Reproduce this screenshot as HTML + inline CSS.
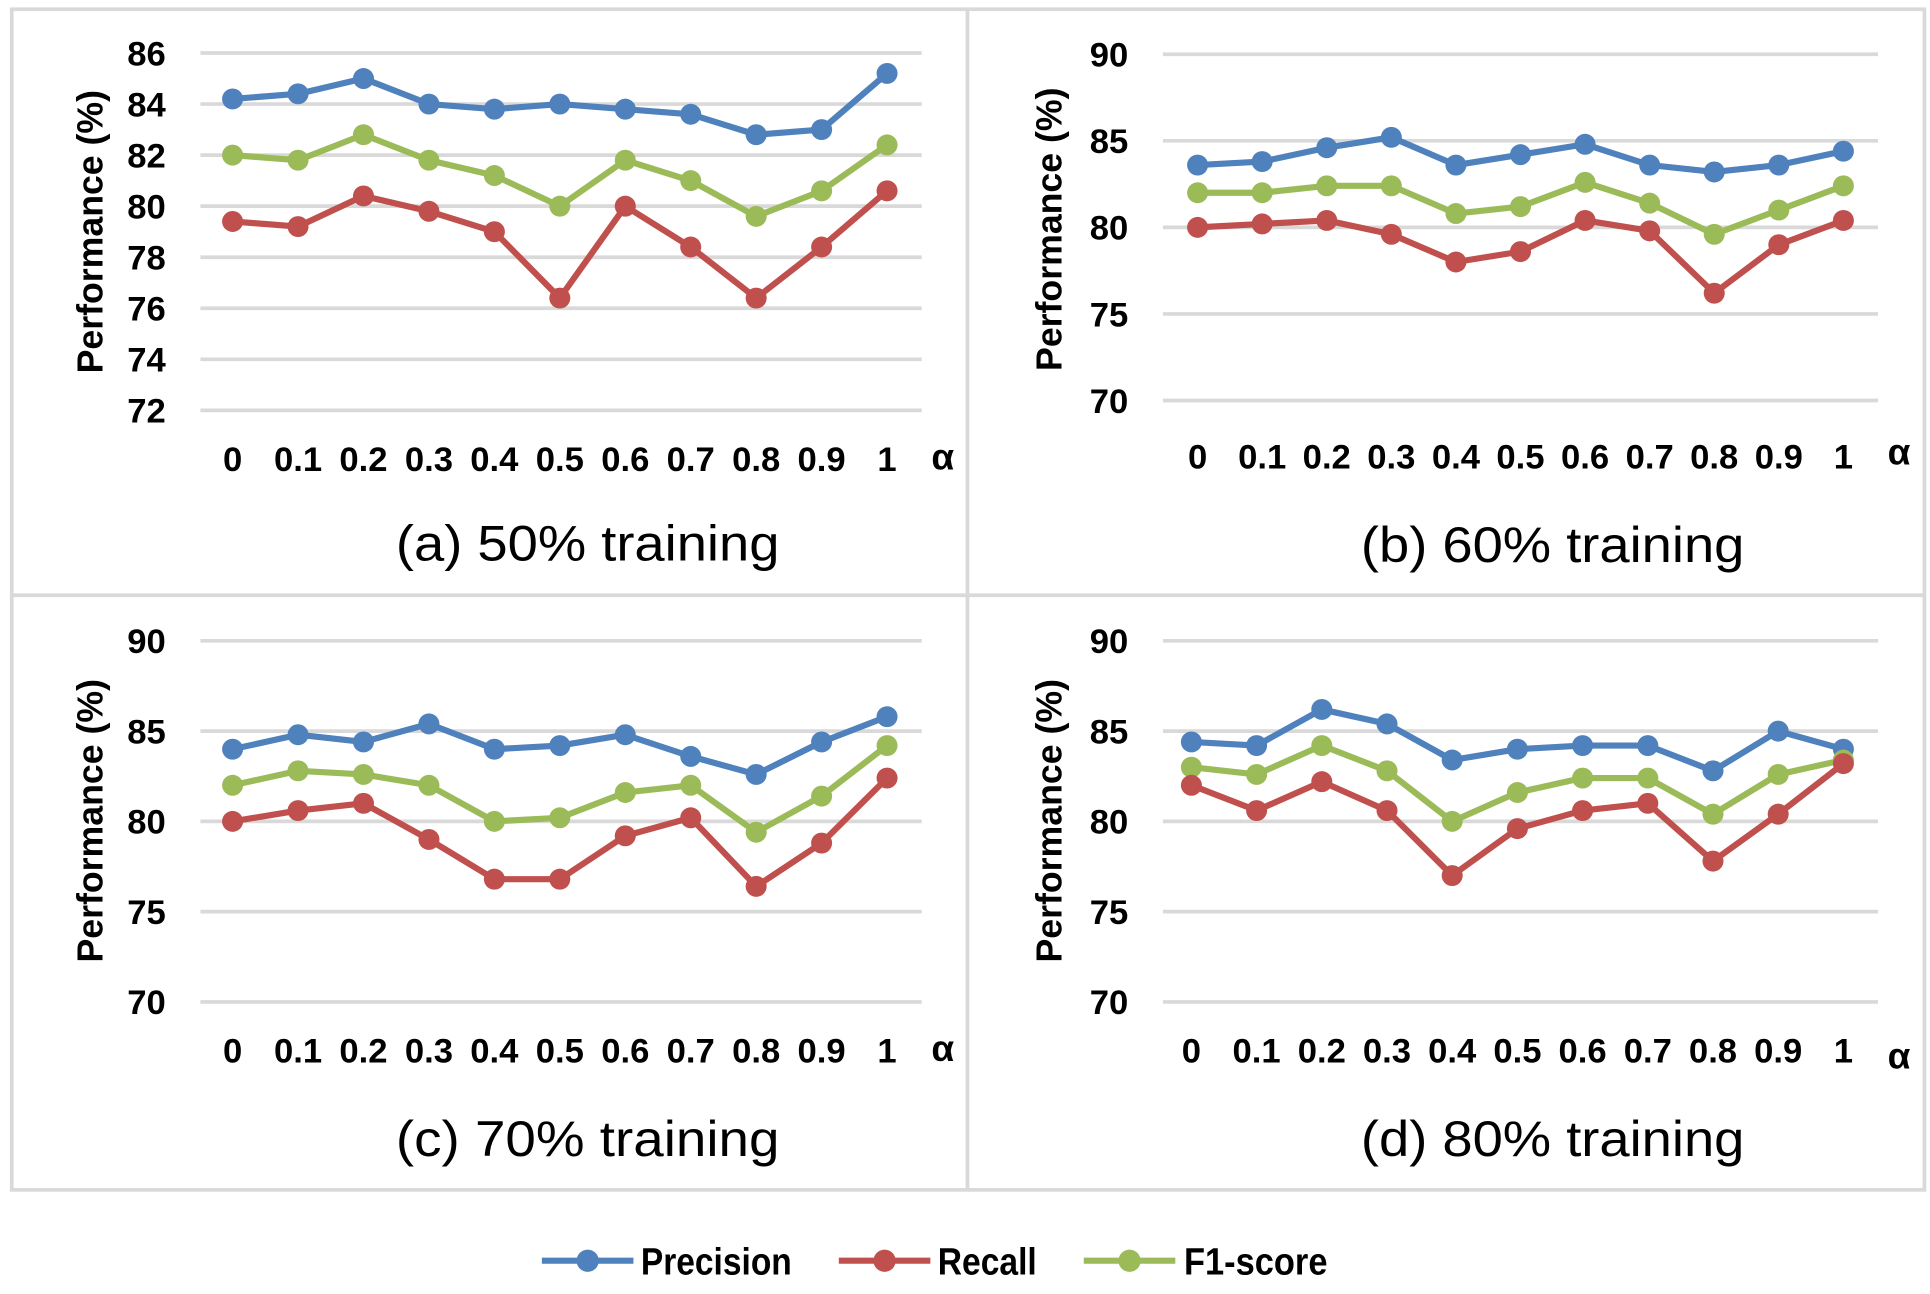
<!DOCTYPE html>
<html><head><meta charset="utf-8"><style>
html,body{margin:0;padding:0;background:#fff}
svg{display:block}
</style></head><body>
<svg id="s" width="1930" height="1294" viewBox="0 0 1560 1050" preserveAspectRatio="none" xmlns="http://www.w3.org/2000/svg">
<rect x="0" y="0" width="1560" height="1050" fill="#fff"/>
<rect x="9.5" y="7.5" width="1546" height="958" fill="none" stroke="#d9d9d9" stroke-width="3"/>
<line x1="782" y1="7" x2="782" y2="966" stroke="#d9d9d9" stroke-width="3"/>
<line x1="9" y1="483" x2="1556" y2="483" stroke="#d9d9d9" stroke-width="3"/>
<g id="g"></g>
</svg>
<script>
var NS="http://www.w3.org/2000/svg",g=document.getElementById('g');
function el(t,a,txt){var e=document.createElementNS(NS,t);for(var k in a)e.setAttribute(k,a[k]);if(txt!==undefined)e.textContent=txt;g.appendChild(e);return e;}
var C=["#4f81bd","#c0504d","#9bbb59"];
var F='"Liberation Sans Narrow","Liberation Sans",sans-serif';
var panels=[
{gx0:162,gx1:745,ytop:43,ybot:333,vmax:86,vmin:72,step:2,x0:188,x1:717,xl:372,al:[762,372],ylx:73,ylc:188,tx:475,ty:442,title:"(a) 50% training",
d:[[84.2,84.4,85,84,83.8,84,83.8,83.6,82.8,83,85.2],[79.4,79.2,80.4,79.8,79,76.4,80,78.4,76.4,78.4,80.6],[82,81.8,82.8,81.8,81.2,80,81.8,81,79.6,80.6,82.4]]},
{gx0:940,gx1:1518,ytop:44,ybot:325,vmax:90,vmin:70,step:5,x0:968,x1:1490,xl:370,al:[1535,368],ylx:848,ylc:186,tx:1255,ty:443,title:"(b) 60% training",
d:[[83.6,83.8,84.6,85.2,83.6,84.2,84.8,83.6,83.2,83.6,84.4],[80,80.2,80.4,79.6,78,78.6,80.4,79.8,76.2,79,80.4],[82,82,82.4,82.4,80.8,81.2,82.6,81.4,79.6,81,82.4]]},
{gx0:162,gx1:745,ytop:520,ybot:813,vmax:90,vmin:70,step:5,x0:188,x1:717,xl:852,al:[762,852],ylx:73,ylc:666,tx:475,ty:925,title:"(c) 70% training",
d:[[84,84.8,84.4,85.4,84,84.2,84.8,83.6,82.6,84.4,85.8],[80,80.6,81,79,76.8,76.8,79.2,80.2,76.4,78.8,82.4],[82,82.8,82.6,82,80,80.2,81.6,82,79.4,81.4,84.2]]},
{gx0:940,gx1:1518,ytop:520,ybot:813,vmax:90,vmin:70,step:5,x0:963,x1:1490,xl:852,al:[1535,858],ylx:848,ylc:666,tx:1255,ty:925,title:"(d) 80% training",
d:[[84.4,84.2,86.2,85.4,83.4,84,84.2,84.2,82.8,85,84],[82,80.6,82.2,80.6,77,79.6,80.6,81,77.8,80.4,83.2],[83,82.6,84.2,82.8,80,81.6,82.4,82.4,80.4,82.6,83.4]]}];
var xl=["0","0.1","0.2","0.3","0.4","0.5","0.6","0.7","0.8","0.9","1"];
panels.forEach(function(p){
 function Y(v){return p.ybot-(v-p.vmin)/(p.vmax-p.vmin)*(p.ybot-p.ytop);}
 for(var v=p.vmin;v<=p.vmax+0.001;v+=p.step){var y=Y(v);
  el('line',{x1:p.gx0,x2:p.gx1,y1:y,y2:y,stroke:"#d9d9d9","stroke-width":3});
  el('text',{x:p.gx0-28,y:y+10,"text-anchor":"end","font-family":F,"font-weight":"bold","font-size":28,fill:"#000"},String(v));}
 var dx=(p.x1-p.x0)/10;
 xl.forEach(function(t,i){el('text',{x:p.x0+i*dx,y:p.xl+10,"text-anchor":"middle","font-family":F,"font-weight":"bold","font-size":28,fill:"#000"},t);});
 el('text',{x:p.al[0],y:p.al[1]+9,"text-anchor":"middle","font-family":F,"font-weight":"bold","font-size":30,fill:"#000"},"α");
 el('text',{x:p.ylx,y:p.ylc,"text-anchor":"middle","font-family":F,"font-weight":"bold","font-size":29,textLength:230,lengthAdjust:"spacingAndGlyphs",fill:"#000",transform:"rotate(-90 "+p.ylx+" "+p.ylc+") translate(0 10)"},"Performance (%)");
 el('text',{x:p.tx,y:p.ty+13,"text-anchor":"middle","font-family":F,"font-size":41,textLength:310,lengthAdjust:"spacingAndGlyphs",fill:"#000"},p.title);
 [0,2,1].forEach(function(s){
  var pts=p.d[s].map(function(v,i){return (p.x0+i*dx)+","+Y(v);});
  el('polyline',{points:pts.join(" "),fill:"none",stroke:C[s],"stroke-width":5,"stroke-linejoin":"round"});
  p.d[s].forEach(function(v,i){el('circle',{cx:p.x0+i*dx,cy:Y(v),r:8.5,fill:C[s]});});
 });
});
[[438,512,475,518,"Precision",122],[678,752,715,758,"Recall",80],[876,950,913,957,"F1-score",116]].forEach(function(l,i){
 el('line',{x1:l[0],x2:l[1],y1:1023,y2:1023,stroke:C[i],"stroke-width":5});
 el('circle',{cx:l[2],cy:1023,r:9,fill:C[i]});
 el('text',{x:l[3],y:1034,"font-family":F,"font-weight":"bold","font-size":31,textLength:l[5],lengthAdjust:"spacingAndGlyphs",fill:"#000"},l[4]);
});
</script>
</body></html>
